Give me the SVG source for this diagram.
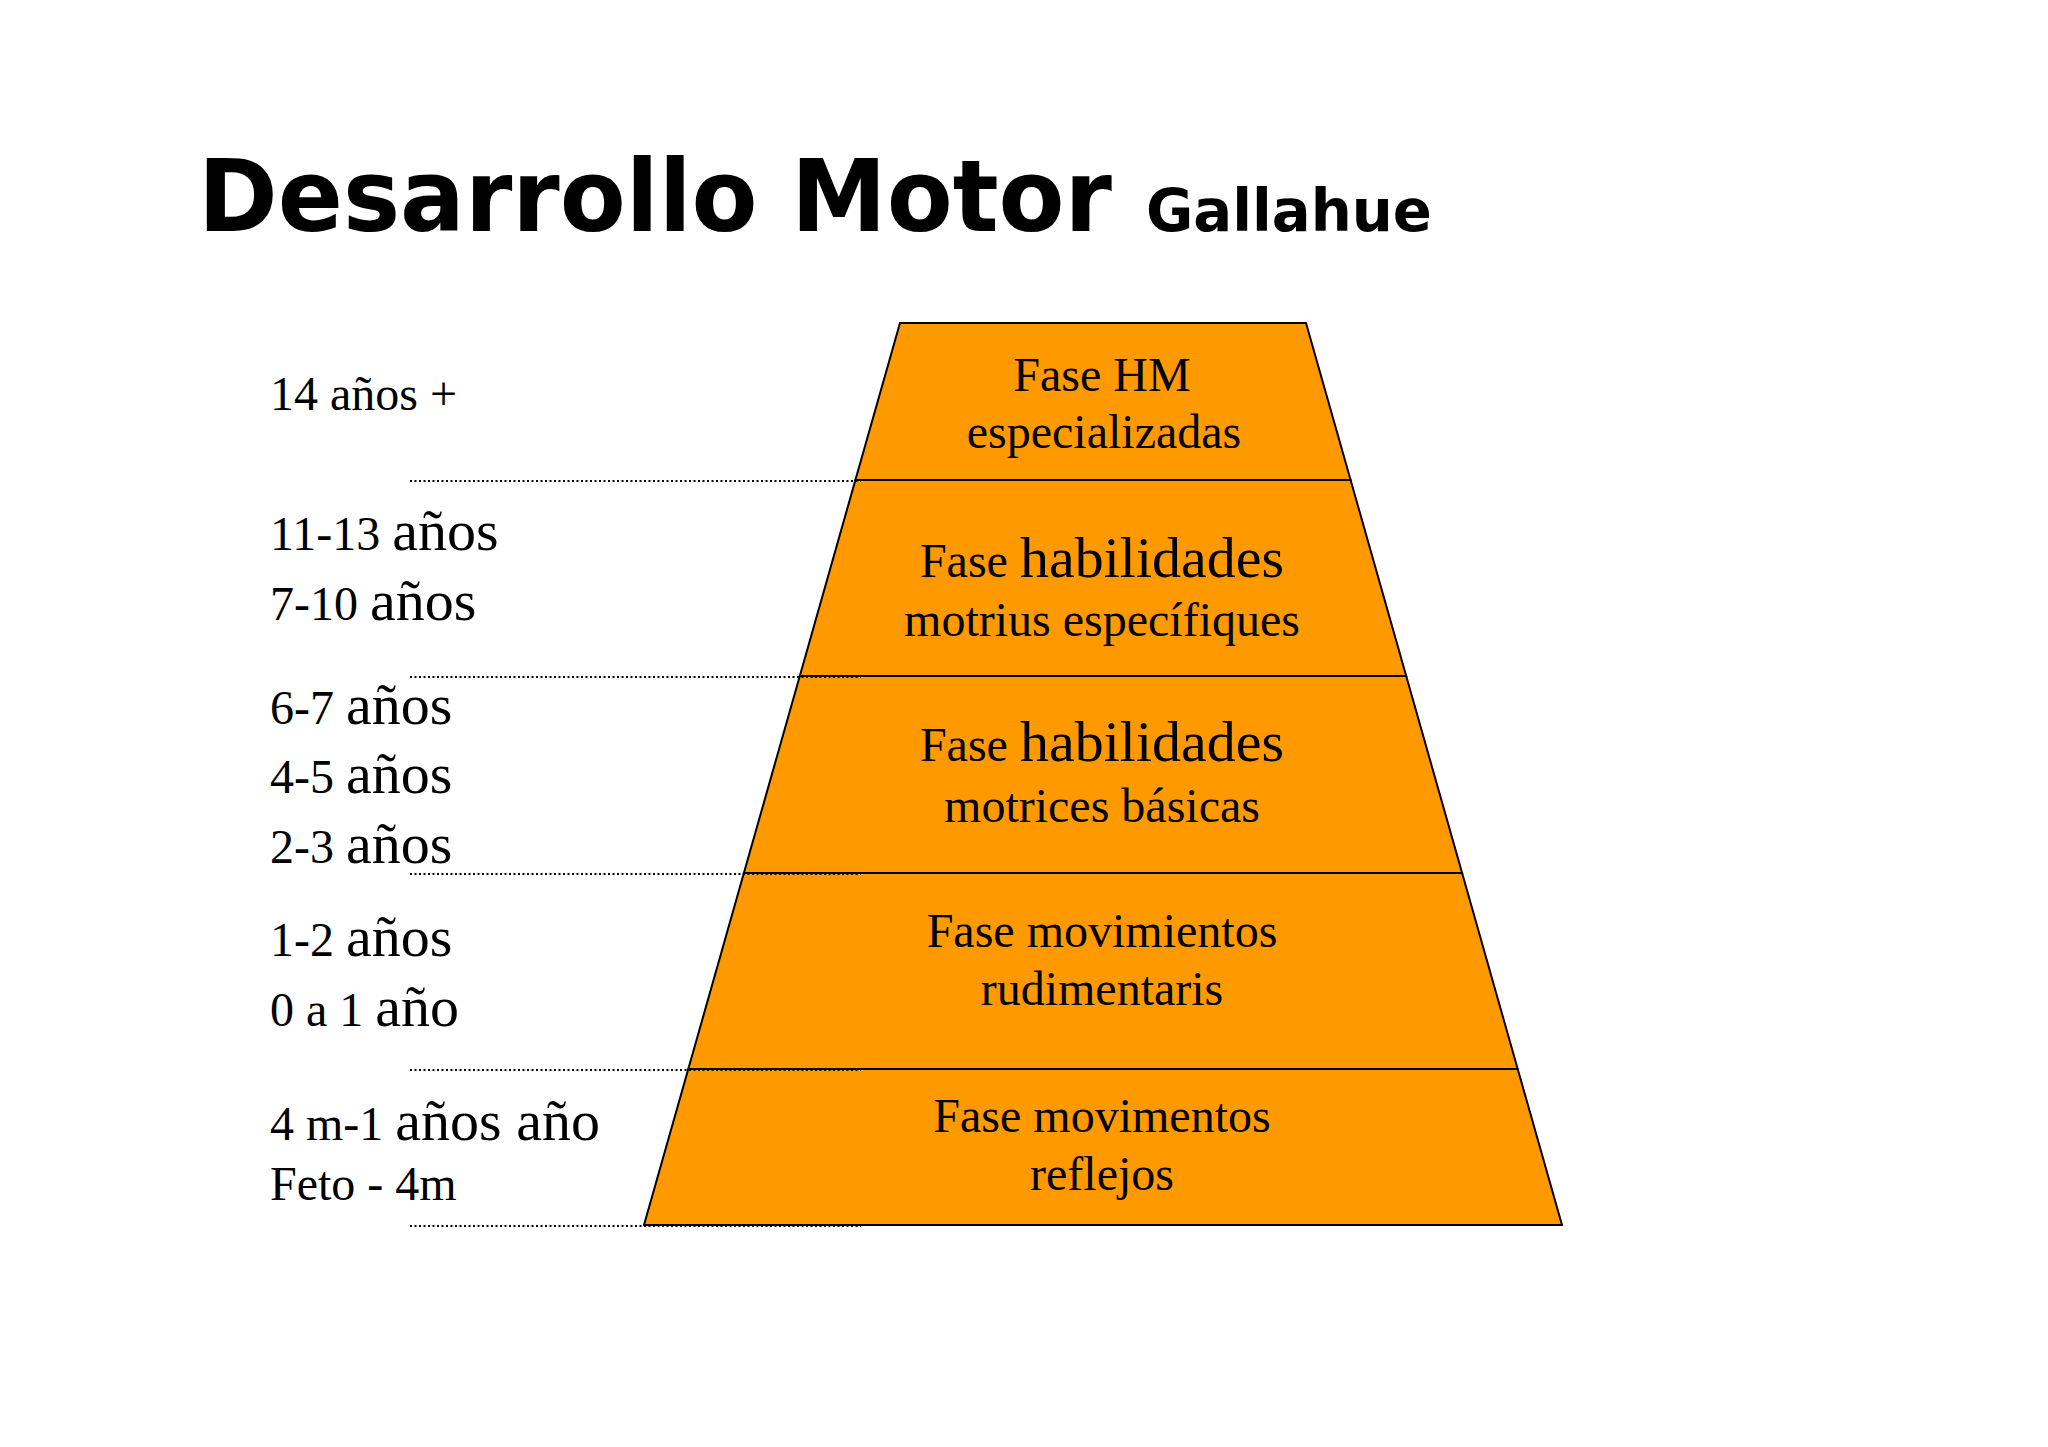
<svg xmlns="http://www.w3.org/2000/svg" width="2048" height="1447" viewBox="0 0 2048 1447">
<style>
.title{font-family:"DejaVu Sans",Verdana,sans-serif;font-weight:bold;fill:#000}
.lbl{font-family:"Liberation Serif","Times New Roman",serif;font-size:48px;fill:#000}
.big{font-size:58px}
.ctr{text-anchor:middle}
.tier{fill:#FF9900;stroke:#000;stroke-width:2;stroke-linejoin:miter}
.dot{stroke:#000;stroke-width:2;stroke-dasharray:2 2.5;fill:none}
</style>
<rect width="2048" height="1447" fill="#fff"/>
<g id="title">
<text class="title" x="198" y="231" font-size="100" textLength="914" lengthAdjust="spacingAndGlyphs">Desarrollo Motor</text>
<text class="title" x="1146" y="231" font-size="59" textLength="286" lengthAdjust="spacingAndGlyphs">Gallahue</text>
</g>
<g id="tier1">
<polygon class="tier" points="900,323 1306,323 1350.6,480 855.4,480"/>
<text class="lbl ctr" x="1102" y="391">Fase HM</text>
<text class="lbl ctr" x="1104" y="448">especializadas</text>
</g>
<g id="tier2">
<polygon class="tier" points="855.4,480 1350.6,480 1406.2,676 799.8,676"/>
<text class="lbl ctr" x="1102" y="577">Fase <tspan class="big">habilidades</tspan></text>
<text class="lbl ctr" x="1102" y="636">motrius específiques</text>
</g>
<g id="tier3">
<polygon class="tier" points="799.8,676 1406.2,676 1462.1,873 743.9,873"/>
<text class="lbl ctr" x="1102" y="761">Fase <tspan class="big">habilidades</tspan></text>
<text class="lbl ctr" x="1102" y="822">motrices básicas</text>
</g>
<g id="tier4">
<polygon class="tier" points="743.9,873 1462.1,873 1517.7,1069 688.3,1069"/>
<text class="lbl ctr" x="1102" y="947">Fase movimientos</text>
<text class="lbl ctr" x="1102" y="1005">rudimentaris</text>
</g>
<g id="tier5">
<polygon class="tier" points="688.3,1069 1517.7,1069 1562,1225 644,1225"/>
<text class="lbl ctr" x="1102" y="1132">Fase movimentos</text>
<text class="lbl ctr" x="1102" y="1190">reflejos</text>
</g>
<g id="connectors">
<line class="dot" x1="410" y1="481" x2="861" y2="481"/>
<line class="dot" x1="410" y1="677" x2="861" y2="677"/>
<line class="dot" x1="410" y1="874" x2="861" y2="874"/>
<line class="dot" x1="410" y1="1070" x2="861" y2="1070"/>
<line class="dot" x1="410" y1="1226" x2="861" y2="1226"/>
</g>
<g id="ages">
<text class="lbl" x="270" y="410">14 años +</text>
<text class="lbl" x="270" y="550">11-13 <tspan class="big">años</tspan></text>
<text class="lbl" x="270" y="620">7-10 <tspan class="big">años</tspan></text>
<text class="lbl" x="270" y="724">6-7 <tspan class="big">años</tspan></text>
<text class="lbl" x="270" y="793">4-5 <tspan class="big">años</tspan></text>
<text class="lbl" x="270" y="863">2-3 <tspan class="big">años</tspan></text>
<text class="lbl" x="270" y="956">1-2 <tspan class="big">años</tspan></text>
<text class="lbl" x="270" y="1026">0 a 1 <tspan class="big">año</tspan></text>
<text class="lbl" x="270" y="1140">4 m-1 <tspan class="big">años año</tspan></text>
<text class="lbl" x="270" y="1200">Feto - 4m</text>
</g>
</svg>
